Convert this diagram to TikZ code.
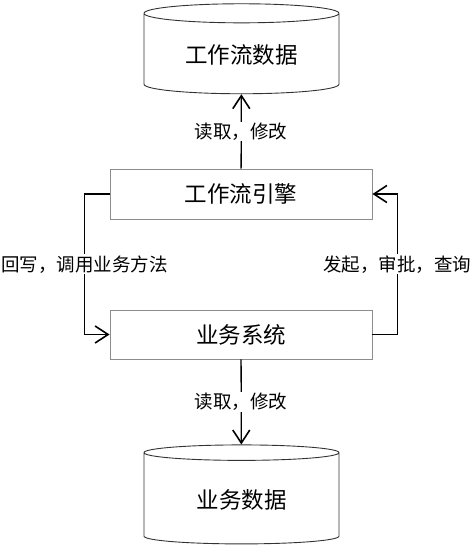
\documentclass[tikz,border=0pt]{standalone}
\usepackage{fontspec}
\newfontfamily\cjk{Noto Sans CJK SC}
\usetikzlibrary{shapes.geometric,arrows.meta}

\tikzset{
  dbstore/.style={cylinder, shape border rotate=90, draw=black!80, line width=0.9pt, aspect=0.16,
    minimum width=195pt, font=\cjk\fontsize{22.5}{26}\selectfont},
  procbox/.style={rectangle, draw=black!45, line width=0.9pt, minimum width=262pt, minimum height=50pt,
    font=\cjk\fontsize{22.5}{26}\selectfont},
  lab/.style={fill=white, inner sep=1pt, font=\cjk\fontsize{18.5}{22}\selectfont},
  arr/.style={line width=1.3pt, -{Straight Barb[length=13pt,width=17pt,line width=1.6pt]}}
}

\begin{document}
\begin{tikzpicture}[x=1pt,y=-1pt]
        \useasboundingbox [fill=white] (0,0) rectangle (474,553);
        % data stores
        \node [dbstore, minimum height=90pt] (wfdata) at (241.5,55) {工作流数据};
        \node [dbstore, minimum height=99pt] (bizdata) at (241.5,499.5) {业务数据};
        % engine and business system
        \node [procbox] (engine) at (241,194) {工作流引擎};
        \node [procbox, minimum height=49pt] (bizsys) at (241,334.5) {业务系统};
        % connectors
        \draw [arr] (engine) -- node[lab]{读取，修改} (wfdata);
        \draw [arr] (bizsys) -- node[lab]{读取，修改} (bizdata);
        \draw [arr] (engine.west) -- ++(-25,0) |- node[lab,pos=0.25]{回写，调用业务方法} (bizsys.west);
        \draw [arr] (bizsys.east) -- ++(25,0) |- node[lab,pos=0.25]{发起，审批，查询} (engine.east);
    \end{tikzpicture}
\end{document}
